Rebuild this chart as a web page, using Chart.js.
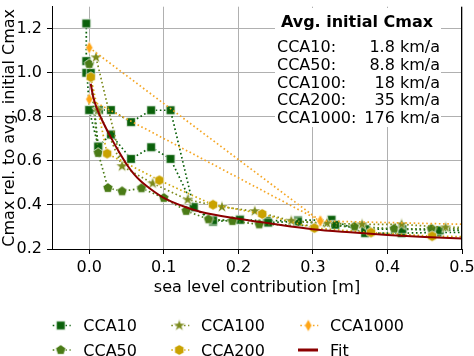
<!DOCTYPE html>
<html><head><meta charset="utf-8">
<script src="https://cdn.jsdelivr.net/npm/chart.js@4.4.1/dist/chart.umd.min.js"></script>
<style>html,body{margin:0;padding:0;background:#fff;}#wrap{width:474px;height:356px;}</style>
</head><body><div id="wrap"><canvas id="c" width="474" height="356"></canvas></div>
<script>
const xTicks = [0.0, 0.1, 0.2, 0.3, 0.4, 0.5];
const yTicks = [0.2, 0.4, 0.6, 0.8, 1.0, 1.2];
const seriesNames = ['CCA10', 'CCA50', 'CCA100', 'CCA200', 'CCA1000', 'Fit'];
const avgLabels = ['CCA10:', 'CCA50:', 'CCA100:', 'CCA200:', 'CCA1000:'];
const avgValues = ['1.8 km/a', '8.8 km/a', '18 km/a', '35 km/a', '176 km/a'];

// null separates individual runs
const cca10X = [-0.004, -0.004, 0.0, 0.013, 0.029, 0.056, 0.083, 0.109, 0.14, 0.166, 0.202, 0.238, 0.28, 0.325, 0.37, 0.419, 0.467, 0.53, null,
                -0.004, 0.002, 0.012, 0.029, 0.056, 0.083, 0.109, 0.14, 0.166, 0.202, 0.24, 0.28, 0.33, 0.37, 0.42, 0.47, 0.53, null,
                0.0, 0.012];
const cca10Y = [1.224, 1.053, 0.831, 0.831, 0.831, 0.776, 0.83, 0.83, 0.39, 0.324, 0.333, 0.328, 0.33, 0.333, 0.272, 0.272, 0.275, 0.275, null,
                1.0, 1.0, 0.665, 0.72, 0.609, 0.662, 0.609, 0.39, 0.33, 0.333, 0.32, 0.325, 0.31, 0.29, 0.29, 0.285, 0.285, null,
                0.831, 0.665];
const cca50X = [0.0, 0.012, 0.025, 0.044, 0.07, 0.1, 0.13, 0.16, 0.192, 0.228, 0.356, 0.409, 0.459, 0.53];
const cca50Y = [1.04, 0.636, 0.477, 0.462, 0.476, 0.432, 0.373, 0.335, 0.327, 0.312, 0.302, 0.292, 0.292, 0.29];
const cca100X = [0.009, 0.044, 0.085, 0.132, 0.178, 0.222, 0.271, 0.319, 0.366, 0.419, 0.478, 0.53, null, 0.012, 0.044];
const cca100Y = [1.07, 0.576, 0.498, 0.424, 0.391, 0.372, 0.328, 0.317, 0.312, 0.312, 0.298, 0.298, null, 0.83, 0.576];
const cca200X = [0.002, 0.024, 0.094, 0.166, 0.232, 0.302, 0.378, 0.46, 0.53];
const cca200Y = [0.98, 0.633, 0.512, 0.401, 0.359, 0.295, 0.275, 0.258, 0.255];
const cca1000X = [0.0, 0.31, 0.53, null, 0.0, 0.31];
const cca1000Y = [1.114, 0.327, 0.31, null, 0.88, 0.327];
const fitX = [0.002, 0.005, 0.01, 0.02, 0.03, 0.04, 0.05, 0.06, 0.07, 0.08, 0.1, 0.125, 0.15, 0.2, 0.25, 0.3, 0.35, 0.4, 0.45, 0.5];
const fitY = [0.95, 0.895, 0.84, 0.765, 0.70, 0.64, 0.585, 0.54, 0.505, 0.478, 0.432, 0.395, 0.368, 0.337, 0.312, 0.29, 0.276, 0.264, 0.255, 0.248];

const FONT = '"DejaVu Sans", "Liberation Sans", sans-serif';
const colors = { CCA10: '#0a600a', CCA50: '#4a7b16', CCA100: '#7b8a1c', CCA200: '#c9a200', CCA1000: '#ffa515', Fit: '#8b0000' };
const lineColors = { CCA10: '#0a600a', CCA50: '#4a7b16', CCA100: '#7b8a1c', CCA200: '#d2aa10', CCA1000: '#f5a623' };
const shapes = { CCA10: 'square', CCA50: 'pentagon', CCA100: 'star', CCA200: 'hexagon', CCA1000: 'diamond' };

function toPts(xs, ys) {
  return xs.map((x, i) => x === null ? { x: xs[i - 1], y: null } : { x: x, y: ys[i] });
}
function poly(g, cx, cy, n, r, a0) {
  for (let i = 0; i < n; i++) {
    const a = a0 + i * 2 * Math.PI / n;
    const px = cx + r * Math.cos(a), py = cy + r * Math.sin(a);
    if (i === 0) g.moveTo(px, py); else g.lineTo(px, py);
  }
  g.closePath();
}
function starPath(g, cx, cy, ro, ri) {
  for (let i = 0; i < 10; i++) {
    const a = -Math.PI / 2 + i * Math.PI / 5;
    const r = i % 2 === 0 ? ro : ri;
    const px = cx + r * Math.cos(a), py = cy + r * Math.sin(a);
    if (i === 0) g.moveTo(px, py); else g.lineTo(px, py);
  }
  g.closePath();
}
function makeMarker(shape, fill) {
  const S = 18, cv = document.createElement('canvas');
  cv.width = S; cv.height = S;
  const g = cv.getContext('2d'), c = S / 2;
  g.beginPath();
  if (shape === 'square') g.rect(c - 4.3, c - 4.3, 8.6, 8.6);
  else if (shape === 'pentagon') poly(g, c, c, 5, 5.3, -Math.PI / 2);
  else if (shape === 'hexagon') poly(g, c, c, 6, 5.3, -Math.PI / 2);
  else if (shape === 'star') starPath(g, c, c, 6.6, 2.6);
  else if (shape === 'diamond') { g.moveTo(c, c - 6.2); g.lineTo(c + 3.6, c); g.lineTo(c, c + 6.2); g.lineTo(c - 3.6, c); g.closePath(); }
  g.fillStyle = fill; g.fill();
  g.lineWidth = 0.8; g.strokeStyle = 'rgba(255,255,255,0.85)'; g.stroke();
  return cv;
}
const markers = {};
['CCA10', 'CCA50', 'CCA100', 'CCA200', 'CCA1000'].forEach(n => markers[n] = makeMarker(shapes[n], colors[n]));

function ccaDataset(name, xs, ys) {
  return {
    label: name, data: toPts(xs, ys), showLine: true, spanGaps: false,
    borderColor: lineColors[name], borderWidth: 1.7, borderDash: [1.6, 2.6], tension: 0,
    pointStyle: markers[name], pointRadius: 5, pointHoverRadius: 5
  };
}

const datasets = [
  { label: 'Fit', data: toPts(fitX, fitY), showLine: true, borderColor: colors.Fit, borderWidth: 2,
    pointRadius: 0, tension: 0.4, cubicInterpolationMode: 'monotone' },
  ccaDataset('CCA1000', cca1000X, cca1000Y),
  ccaDataset('CCA200', cca200X, cca200Y),
  ccaDataset('CCA100', cca100X, cca100Y),
  ccaDataset('CCA50', cca50X, cca50Y),
  ccaDataset('CCA10', cca10X, cca10Y)
];

const deco = {
  id: 'deco',
  beforeDatasetsDraw(chart) {
    const ctx = chart.ctx;
    ctx.save();
    ctx.fillStyle = '#fff';
    ctx.fillRect(275, 8, 166, 119);
    ctx.fillStyle = '#000';
    ctx.textBaseline = 'alphabetic';
    ctx.font = 'bold 16px ' + FONT;
    ctx.textAlign = 'center';
    ctx.fillText('Avg. initial Cmax', 357, 26.6);
    ctx.font = '16px ' + FONT;
    for (let i = 0; i < avgLabels.length; i++) {
      const y = 52.3 + 17.6 * i;
      ctx.textAlign = 'left'; ctx.fillText(avgLabels[i], 277, y);
      ctx.textAlign = 'right'; ctx.fillText(avgValues[i], 440, y);
    }
    ctx.restore();
  },
  afterDraw(chart) {
    const ctx = chart.ctx, a = chart.chartArea;
    ctx.save();
    ctx.strokeStyle = '#000'; ctx.lineWidth = 1;
    ctx.beginPath(); ctx.moveTo(Math.round(a.right) - 0.5, a.top); ctx.lineTo(Math.round(a.right) - 0.5, a.bottom); ctx.stroke();
    const colMarker = [60.7, 179.3, 308.3], colText = [83.3, 201, 330], rowY = [325.5, 350];
    ctx.font = '16px ' + FONT;
    ctx.textAlign = 'left'; ctx.textBaseline = 'alphabetic';
    seriesNames.forEach((name, i) => {
      const col = Math.floor(i / 2), row = i % 2;
      const mx = colMarker[col], my = rowY[row];
      if (name === 'Fit') {
        ctx.strokeStyle = colors.Fit; ctx.lineWidth = 3; ctx.setLineDash([]);
        ctx.beginPath(); ctx.moveTo(298, my); ctx.lineTo(318, my); ctx.stroke();
      } else {
        ctx.strokeStyle = lineColors[name]; ctx.lineWidth = 1.7; ctx.setLineDash([1.6, 2.6]);
        ctx.beginPath(); ctx.moveTo(mx - 8, my); ctx.lineTo(mx + 10, my); ctx.stroke();
        ctx.setLineDash([]);
        const m = markers[name];
        ctx.drawImage(m, mx - m.width / 2, my - m.height / 2);
      }
      ctx.fillStyle = '#000';
      ctx.fillText(name, colText[col], my + 5.8);
    });
    ctx.restore();
  }
};

new Chart(document.getElementById('c'), {
  type: 'scatter',
  data: { datasets },
  options: {
    responsive: false, animation: false, devicePixelRatio: 1, events: [],
    layout: { padding: { left: 0, right: 12, top: 0, bottom: 58.4 } },
    plugins: { legend: { display: false }, tooltip: { enabled: false } },
    scales: {
      x: {
        type: 'linear', min: -0.05, max: 0.5,
        afterBuildTicks: s => { s.ticks = xTicks.map(v => ({ value: v })); },
        afterFit: s => { s.height = 48.6; s.paddingLeft = 0; s.paddingRight = 0; },
        ticks: { callback: v => v.toFixed(1), color: '#000', font: { family: FONT, size: 16 }, padding: 4, maxRotation: 0, autoSkip: false },
        grid: { color: '#b0b0b0', lineWidth: 1, tickLength: 5, tickColor: '#000' },
        border: { display: true, color: '#000', width: 1 },
        title: { display: true, text: 'sea level contribution [m]', color: '#000', font: { family: FONT, size: 16 }, padding: 0 }
      },
      y: {
        type: 'linear', min: 0.2, max: 1.3,
        afterBuildTicks: s => { s.ticks = yTicks.map(v => ({ value: v })); },
        afterFit: s => { s.width = 52; s.paddingTop = 0; s.paddingBottom = 0; },
        ticks: { callback: v => v.toFixed(1), color: '#000', font: { family: FONT, size: 16 }, padding: 5, autoSkip: false },
        grid: { color: '#b0b0b0', lineWidth: 1, tickLength: 5, tickColor: '#000' },
        border: { display: true, color: '#000', width: 1 },
        title: { display: true, text: 'Cmax rel. to avg. initial Cmax', color: '#000', font: { family: FONT, size: 16 }, padding: 0 }
      }
    }
  },
  plugins: [deco]
});
</script></body></html>
